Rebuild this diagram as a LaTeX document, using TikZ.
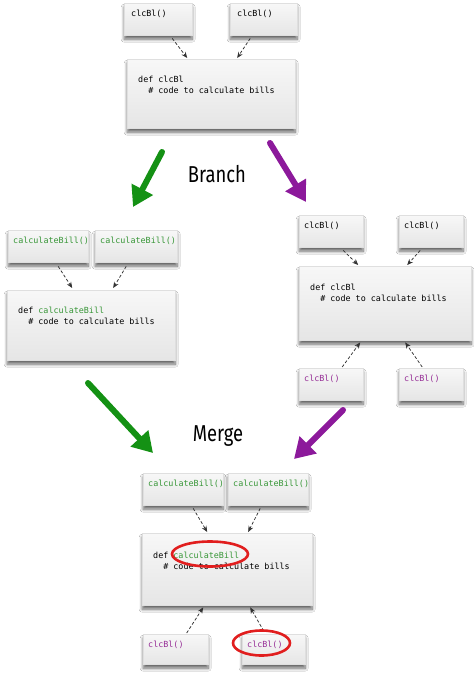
\documentclass[tikz,border=0pt]{standalone}
\usepackage{fontspec}
\setmonofont{DejaVu Sans Mono}
\newfontfamily\handfont[FakeStretch=0.8]{Fira Sans}
\usetikzlibrary{arrows.meta,shadows.blur,calc,shapes.geometric}
\definecolor{cgreen}{RGB}{55,150,55}
\definecolor{cpurple}{RGB}{150,45,150}
\definecolor{agreen}{RGB}{20,145,20}
\definecolor{apurple}{RGB}{140,25,155}
\definecolor{ered}{RGB}{225,30,30}
\tikzset{
  box/.style={draw=gray!25, line width=0.4pt, top color=gray!6, bottom color=gray!20,
    anchor=north west, inner sep=0pt,
    blur shadow={shadow xshift=0pt, shadow yshift=-4pt, shadow blur radius=3pt,
      shadow blur steps=10, shadow opacity=60}},
  small/.style={box, minimum height=32pt},
  code/.style={font=\ttfamily\fontsize{8.4}{11}\selectfont, inner sep=0pt, anchor=base west},
  dep/.style={densely dashed, draw=black!80, line width=0.75pt, -{Stealth[length=6pt,width=5pt]}},
  bigg/.style={line width=6pt, line cap=round, draw=agreen, fill=agreen, -{Triangle[length=20pt,width=23pt]}},
  bigp/.style={line width=6pt, line cap=round, draw=apurple, fill=apurple, -{Triangle[length=20pt,width=23pt]}},
  word/.style={font=\handfont\fontsize{23}{27}\selectfont, inner sep=0pt},
  ring/.style={ellipse, draw=ered, line width=2.6pt, inner sep=0pt}
}
\begin{document}
\begin{tikzpicture}[x=1pt,y=-1pt]
\useasboundingbox[fill=white] (0,0) rectangle (474,676);

% ---------- top ----------
\node[small, minimum width=68pt] (a1) at (124,3) {};
\node[small, minimum width=67pt] (a2) at (230,3) {};
\node[box, minimum width=168pt, minimum height=69pt] (a) at (127,59) {};
\node[code] (a1t) at ($(a1.north west)+(7,14)$) {clcBl()};
\node[code] (a2t) at ($(a2.north west)+(7,14)$) {clcBl()};
\node[code] (at1) at ($(a.north west)+(11,24)$) {def clcBl};
\node[code] (at2) at ($(a.north west)+(11,35)$) {\phantom{de}\# code to calculate bills};
\draw[dep] ($(a1.south)+(14,3)$) -- ($(a.north)+(-24,-1)$);
\draw[dep] ($(a2.south)+(-13.5,3)$) -- ($(a.north)+(26,-1)$);

% ---------- branch ----------
\coordinate (gb1) at (162,152);
\coordinate (gb2) at (133,207);
\coordinate (pb1) at (270,143);
\coordinate (pb2) at (306,202);
\draw[bigg] (gb1) -- (gb2);
\draw[bigp] (pb1) -- (pb2);
\node[word] (branch) at (217,174) {Branch};

% ---------- left ----------
\node[small, minimum width=80pt] (b1) at (8,230) {};
\node[small, minimum width=82pt] (b2) at (95,230) {};
\node[box, minimum width=168pt, minimum height=70pt] (b) at (7,290) {};
\node[code, text=cgreen] (b1t) at ($(b1.north west)+(5,13)$) {calculateBill()};
\node[code, text=cgreen] (b2t) at ($(b2.north west)+(5,13)$) {calculateBill()};
\node[code] (bt1) at ($(b.north west)+(11,23)$) {def \textcolor{cgreen}{calculateBill}};
\node[code] (bt2) at ($(b.north west)+(11,34)$) {\phantom{de}\# code to calculate bills};
\draw[dep] ($(b1.south)+(10,4)$) -- ($(b.north)+(-19,-2)$);
\draw[dep] ($(b2.south)+(-10,4)$) -- ($(b.north)+(22,-2)$);

% ---------- right ----------
\node[small, minimum width=64pt] (c1) at (299,215) {};
\node[small, minimum width=64pt] (c2) at (399,215) {};
\node[box, minimum width=172pt, minimum height=74pt] (c) at (299,266) {};
\node[small, minimum width=64pt] (c3) at (299,368) {};
\node[small, minimum width=64pt] (c4) at (399,368) {};
\node[code] (c1t) at ($(c1.north west)+(5,13)$) {clcBl()};
\node[code] (c2t) at ($(c2.north west)+(5,13)$) {clcBl()};
\node[code] (ct1) at ($(c.north west)+(11,24)$) {def clcBl};
\node[code] (ct2) at ($(c.north west)+(11,35)$) {\phantom{de}\# code to calculate bills};
\node[code, text=cpurple] (c3t) at ($(c3.north west)+(5,13)$) {clcBl()};
\node[code, text=cpurple] (c4t) at ($(c4.north west)+(5,13)$) {clcBl()};
\draw[dep] ($(c1.south)+(12,3)$) -- ($(c.north)+(-27,-1)$);
\draw[dep] ($(c2.south)+(-11,3)$) -- ($(c.north)+(22,-1)$);
\draw[dep] ($(c3.north)+(11,-1)$) -- ($(c.south)+(-25,2)$);
\draw[dep] ($(c4.north)+(-9,-1)$) -- ($(c.south)+(20,2)$);

% ---------- merge ----------
\coordinate (gm1) at (88,383);
\coordinate (gm2) at (153,453);
\coordinate (pm1) at (343,410);
\coordinate (pm2) at (294,459);
\draw[bigg] (gm1) -- (gm2);
\draw[bigp] (pm1) -- (pm2);
\node[word] (merge) at (218,436) {Merge};

% ---------- bottom ----------
\node[small, minimum width=80pt] (d1) at (143,473) {};
\node[small, minimum width=80pt] (d2) at (228,473) {};
\node[box, minimum width=170pt, minimum height=72pt] (d) at (142,533) {};
\node[small, minimum width=65pt, minimum height=30pt] (d3) at (143,634) {};
\node[small, minimum width=63pt, minimum height=30pt] (d4) at (242,634) {};
\node[code, text=cgreen] (d1t) at ($(d1.north west)+(5,13)$) {calculateBill()};
\node[code, text=cgreen] (d2t) at ($(d2.north west)+(5,13)$) {calculateBill()};
\node[code] (dt1) at ($(d.north west)+(11,25)$) {def \textcolor{cgreen}{calculateBill}};
\node[code] (dt2) at ($(d.north west)+(11,36)$) {\phantom{de}\# code to calculate bills};
\node[code, text=cpurple] (d3t) at ($(d3.north west)+(5,13)$) {clcBl()};
\node[code, text=cpurple] (d4t) at ($(d4.north west)+(5,13)$) {clcBl()};
\draw[dep] ($(d1.south)+(10,3)$) -- ($(d.north)+(-20,-1)$);
\draw[dep] ($(d2.south)+(-8,3)$) -- ($(d.north)+(21,-1)$);
\draw[dep] ($(d3.north)+(11,-1)$) -- ($(d.south)+(-24,2)$);
\draw[dep] ($(d4.north)+(-10,-3)$) -- ($(d.south)+(23,2)$);
\node[ring, minimum width=76pt, minimum height=25pt] (r1) at (210,554) {};
\node[ring, minimum width=57pt, minimum height=25pt] (r2) at (261.5,643) {};
\end{tikzpicture}
\end{document}
